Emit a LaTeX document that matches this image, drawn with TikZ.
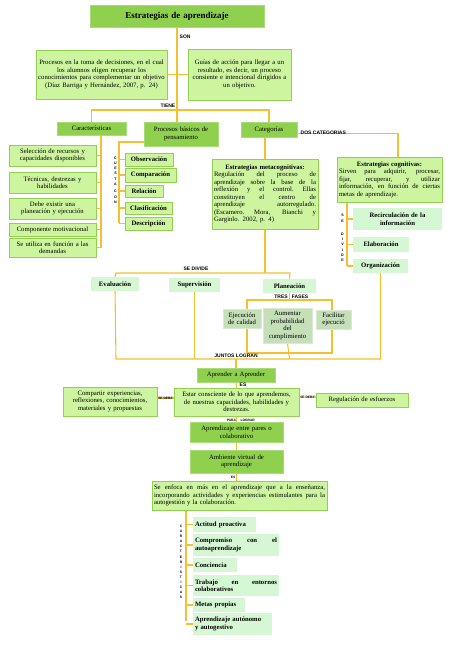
\documentclass[tikz,border=0pt]{standalone}
\usepackage{fontspec}
\setmainfont{Liberation Serif}
\newfontfamily\labfont{Liberation Sans}
\pgfdeclarelayer{bg}
\pgfsetlayers{bg,main}
\definecolor{lnc}{HTML}{F5C030}
\definecolor{gmid}{HTML}{8FD14F}
\definecolor{gmidb}{HTML}{A9DC78}
\definecolor{glight}{HTML}{CDF5A0}
\definecolor{glightb}{HTML}{92D050}
\definecolor{gmint}{HTML}{D6F7D4}
\definecolor{gsage}{HTML}{C5DFB8}
\definecolor{gsageb}{HTML}{D8EBD0}
\tikzset{
  base/.style={inner sep=0pt,outer sep=0pt,align=center,font=\fontsize{6.7}{7.5}\selectfont},
  midbox/.style={base,fill=gmid,draw=gmidb,line width=0.8pt},
  lightbox/.style={base,fill=glight,draw=glightb,line width=0.8pt},
  mintbox/.style={base,fill=gmint,font=\fontsize{6.7}{7.5}\selectfont\bfseries},
  sagebox/.style={base,fill=gsage,draw=gsageb,line width=0.8pt},
  boldlight/.style={lightbox,font=\fontsize{6.7}{7.5}\selectfont\bfseries},
  conn/.style={draw=lnc,line width=1.1pt},
  lab/.style={inner sep=0.5pt,font=\labfont\bfseries\fontsize{5}{5}\selectfont},
  tinylab/.style={inner sep=0.3pt,font=\labfont\bfseries\fontsize{3.3}{3.3}\selectfont},
  vlab/.style={inner sep=0pt,align=center,font=\labfont\bfseries\fontsize{3.6}{5.3}\selectfont},
}
\newcommand\bx[7]{%
  \pgfmathsetmacro\bw{#4-#2}\pgfmathsetmacro\bh{#5-#3}%
  \pgfmathsetmacro\tw{#4-#2-4}%
  \pgfmathsetmacro\cx{(#2+#4)/2}\pgfmathsetmacro\cy{(#3+#5)/2}%
  \node[#6,minimum width=\bw pt,minimum height=\bh pt,text width=\tw pt] (#1) at (\cx,\cy) {#7};}
\newcommand\jl[1]{\noindent\hbox to \tw pt{\spaceskip=.25em plus 1fil minus .08em\xspaceskip=\spaceskip #1}\par}
\newcommand\lftline[1]{\noindent\hbox to \tw pt{#1\hfil}\par}
\begin{document}
\begin{tikzpicture}[x=1pt,y=-1pt]
\useasboundingbox (0,0) rectangle (474,652);
% ---- top
\bx{tit}{90}{5}{264}{27}{midbox,font=\fontsize{9}{10}\selectfont\bfseries}{Estrategias de aprendizaje}
\bx{d1}{36}{50}{167}{99}{lightbox}{Procesos en la toma de decisiones, en el cual\\los alumnos eligen recuperar los\\conocimientos para complementar un objetivo\\(Díaz Barriga y Hernández, 2007, p. 24)}
\bx{d2}{188}{49}{291}{100}{lightbox}{Guías de acción para llegar a un\\resultado, es decir, un proceso\\consiente e intencional dirigidos a\\un objetivo.}
\node[lab,anchor=west] (son) at (179,37) {SON};
\node[lab,anchor=east] (tiene) at (176,106) {TIENE};
\coordinate (j1) at (177,110);
% ---- second row
\bx{car}{57}{122}{126}{135}{midbox}{Características}
\bx{pro}{144}{122}{218}{146}{midbox}{Procesos básicos de\\pensamiento}
\bx{cat}{241}{122}{297}{137}{midbox}{Categorías}
\node[lab,anchor=west] (dos) at (300,133) {DOS CATEGORIAS};
% características
\bx{s1}{9}{145}{96}{166}{lightbox}{Selección de recursos y\\capacidades disponibles}
\bx{s2}{9}{172}{96}{193}{lightbox}{Técnicas, destrezas y\\habilidades}
\bx{s3}{9}{198}{96}{219}{lightbox}{Debe existir una\\planeación y ejecución}
\bx{s4}{9}{223}{96}{236}{lightbox}{Componente motivacional}
\bx{s5}{9}{238}{96}{257}{lightbox}{Se utiliza en función a las\\demandas}
\coordinate (cv) at (101,135);
\coordinate (cve) at (101,248);
% procesos
\bx{p1}{125}{153}{173}{166}{boldlight}{Observación}
\bx{p2}{125}{168}{176}{182}{boldlight}{Comparación}
\bx{p3}{125}{185}{163}{197}{boldlight}{Relación}
\bx{p4}{125}{202}{172}{214}{boldlight}{Clasificación}
\bx{p5}{125}{217}{172}{230}{boldlight}{Descripción}
\coordinate (pv) at (119,142);
\coordinate (pve) at (119,223);
\node[vlab] (cuesta) at (115.5,180) {C\\U\\E\\S\\T\\A\\[2pt]C\\O\\N};
% metacognitivas
\bx{meta}{212}{159}{318}{229}{lightbox}{{\bfseries Estrategias metacognitivas:}\par
\jl{Regulación del proceso de}\jl{aprendizaje sobre la base de la}\jl{reflexión y el control. Ellas}\jl{constituyen el centro de}\jl{aprendizaje autorregulado.}\jl{(Escamero. Mora, Bianchi y}\lftline{Garginlo. 2002, p. 4)}}
% cognitivas
\bx{cog}{337}{157}{442}{202}{lightbox}{{\bfseries Estrategias cognitivas:}\par
\jl{Sirven para adquirir, procesar,}\jl{fijar, recuperar, y utilizar}\jl{información, en función de ciertas}\lftline{metas de aprendizaje.}}
\bx{rec}{353}{208}{442}{230}{mintbox}{Recirculación de la\\información}
\bx{ela}{353}{237}{409}{252}{mintbox}{Elaboración}
\bx{org}{353}{259}{408}{273}{mintbox}{Organización}
\coordinate (gv) at (347,202);
\coordinate (gve) at (347,266);
\node[vlab] (sediv) at (342.5,238) {S\\E\\[8pt]D\\I\\V\\I\\D\\E};
% se divide row
\node[lab] (sd) at (196,268.5) {SE DIVIDE};
\coordinate (h1) at (116,273);
\coordinate (h2) at (290,273);
\bx{eva}{91}{277}{139}{291}{mintbox}{Evaluación}
\bx{sup}{169}{278}{220}{292}{mintbox}{Supervisión}
\bx{pla}{263}{279}{316}{293}{mintbox}{Planeación}
\node[lab] (tres) at (281,297) {TRES};
\node[lab] (fases) at (300,297) {FASES};
\coordinate (f1) at (247,300);
\coordinate (f2) at (332,300);
\coordinate (f3) at (247,353);
\coordinate (f4) at (332,353);
\bx{eje}{223}{309}{261}{328}{sagebox}{Ejecución\\de calidad}
\bx{aum}{263}{308}{312}{343}{sagebox}{Aumentar\\probabilidad\\del\\cumplimiento}
\bx{fac}{316}{310}{351}{329}{sagebox}{Facilitar\\ejecució}
\coordinate (bl) at (116,359);
\coordinate (sb) at (194.5,359);
\coordinate (pb) at (289.5,359);
\node[lab] (jun) at (236,355.5) {JUNTOS LOGRAN};
% lower chain
\bx{apr}{197}{368}{275}{382}{midbox}{Aprender a Aprender}
\node[lab] (es1) at (243,385) {ES};
\bx{est}{174}{388}{299}{416}{lightbox}{Estar consciente de lo que aprendemos,\\de nuestras capacidades, habilidades y\\destrezas.}
\bx{com}{63}{387}{157}{416}{lightbox}{Compartir experiencias,\\reflexiones, conocimientos,\\materiales y propuestas}
\bx{reg}{316}{393}{408}{407}{lightbox}{Regulación de esfuerzos}
\node[tinylab] (sd1) at (165.5,398) {SE DEBE};
\node[tinylab,fill=orange!15] (sd2) at (307.5,397) {SE DEBE};
\node[tinylab,anchor=east] (para) at (236.5,420) {PARA};
\node[tinylab,anchor=west] (logr) at (240,420) {LOGRAR};
\bx{par}{190}{422}{283}{442}{midbox}{Aprendizaje entre pares o\\colaborativo}
\bx{amb}{190}{450}{283}{473}{midbox}{Ambiente virtual de\\aprendizaje}
\node[tinylab] (es2) at (233,477.5) {ES};
\bx{enf}{152}{481}{327}{510}{lightbox}{\jl{Se enfoca en más en el aprendizaje que a la enseñanza,}\jl{incorporando actividades y experiencias estimulantes para la}\lftline{autogestión y la colaboración.}}
\bx{c1}{193}{517}{256}{532}{mintbox,align=left}{Actitud proactiva}
\bx{c2}{193}{534}{279}{556}{mintbox,align=left}{\jl{Compromiso con el}\lftline{autoaprendizaje}}
\bx{c3}{193}{558}{237}{572}{mintbox,align=left}{Conciencia}
\bx{c4}{193}{575}{279}{596}{mintbox,align=left}{\jl{Trabajo en entornos}\lftline{colaborativos}}
\bx{c5}{193}{598}{245}{612}{mintbox,align=left}{Metas propias}
\bx{c6}{193}{613}{272}{635}{mintbox,align=left}{Aprendizaje autónomo\\y autogestivo}
\coordinate (ev) at (186,510);
\coordinate (eve) at (186,621);
\node[vlab,font=\labfont\bfseries\fontsize{3.4}{5.1}\selectfont] (cara) at (181,562) {C\\A\\R\\A\\C\\T\\E\\R\\I\\S\\T\\I\\C\\A\\S};
% ---- connectors
\begin{pgfonlayer}{bg}
\draw[conn] (tit.south) -- (j1);
\draw[conn] (d1.east) -- (d2.west);
\draw[conn] (car.north) -- (car.north |- j1) -- (cat.north |- j1) -- (cat.north);
\draw[conn] (j1) -- (j1 |- pro.north);
\draw[conn] (cv) -- (cve);
\foreach \n in {s1,s2,s3,s4,s5} \draw[conn] (\n.east) -- (\n.east -| cv);
\draw[conn] (pro.west |- pv) -- (pv) -- (pve);
\foreach \n in {p1,p2,p3,p4,p5} \draw[conn] (\n.west) -- (\n.west -| pv);
\draw[conn] (cat.south -| meta.north) -- (meta.north);
\draw[conn] ([yshift=-4pt]cat.east) -- ([yshift=-4pt]cat.east -| 398,0) -- (398,157);
\draw[conn] (gv) -- (gve);
\foreach \n in {rec,ela,org} \draw[conn] (\n.west) -- (\n.west -| gv);
\draw[conn] (meta.south) -- (meta.south |- h1);
\draw[conn] (eva.north) -- (h1) -- (h2) -- (pla.north);
\draw[conn] (eva.south) -- (bl) -- (bl -| org.south) -- (org.south);
\draw[conn] (sup.south) -- (sb);
\draw[conn] (pla.south) -- (pla.south |- f1);
\draw[conn] (f3) -- (f1) -- (f2) -- (f4) -- cycle;
\draw[conn] (aum.south) -- (pb);
\draw[conn] (apr.north) -- (apr.north |- bl);
\draw[conn] (apr.south) -- (est.north);
\draw[conn] (com.east |- sd1) -- (est.west |- sd1);
\draw[conn] (est.east |- sd2) -- (reg.west |- sd2);
\draw[conn] (est.south) -- (par.north);
\draw[conn] (par.south) -- (amb.north);
\draw[conn] (amb.south) -- (amb.south |- enf.north);
\draw[conn] (ev) -- (eve);
\foreach \n in {c1,c2,c3,c4,c5,c6} \draw[conn] (\n.west) -- (\n.west -| ev);
\end{pgfonlayer}
\end{tikzpicture}
\end{document}
